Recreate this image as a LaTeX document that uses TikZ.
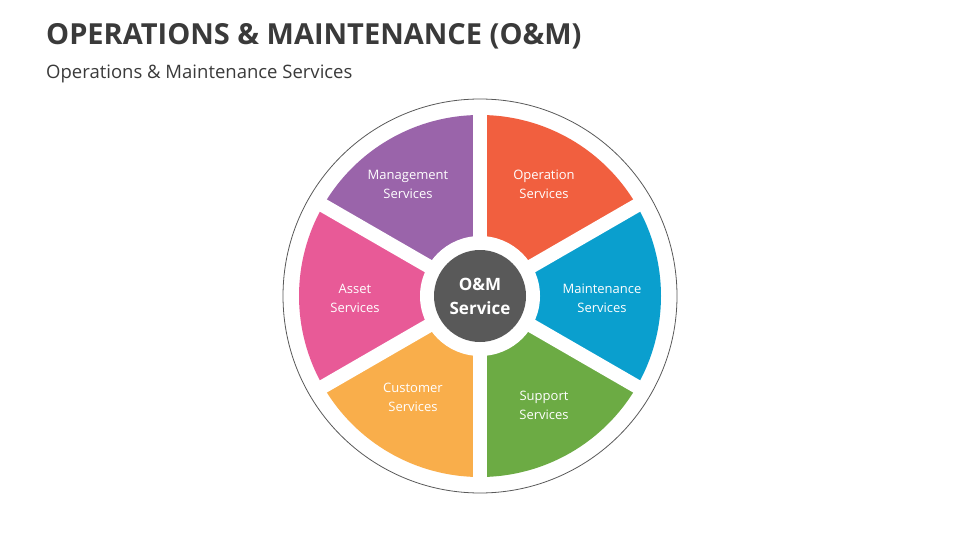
\documentclass[tikz,border=0pt]{standalone}
\usepackage{fontspec}
\setmainfont{Open Sans}
\definecolor{cop}{HTML}{F15F3F}
\definecolor{cma}{HTML}{0A9FCE}
\definecolor{csu}{HTML}{6CAB44}
\definecolor{ccu}{HTML}{F9AE4B}
\definecolor{cas}{HTML}{E85A97}
\definecolor{cmg}{HTML}{9A64AA}
\definecolor{ccen}{HTML}{595959}
\definecolor{ctitle}{HTML}{3A3A3A}
\begin{document}
\begin{tikzpicture}[x=1pt,y=-1pt,
  lbl/.style={text=white,font=\fontsize{13}{19}\selectfont,align=center}]
\useasboundingbox (0,0) rectangle (960,540);
\node[anchor=west,text=ctitle,font=\fontsize{29}{34}\selectfont\bfseries,inner sep=0pt] (title) at (46,36) {OPERATIONS \& MAINTENANCE (O\&M)};
\node[anchor=west,text=ctitle,font=\fontsize{18.5}{22}\selectfont,inner sep=0pt] (sub) at (46,74) {Operations \& Maintenance Services};
\coordinate (c) at (480,296);
\draw[fill=white,draw=ccen,line width=0.8pt] (c) circle (197);
\foreach \a/\col in {-90/cop,-30/cma,30/csu,90/ccu,150/cas,210/cmg}{
  \fill[\col] (c) -- ++(\a:181) arc[start angle=\a,delta angle=60,radius=181] -- cycle;
}
\foreach \a in {30,90,150,210,270,330}{
  \draw[white,line width=14pt] (c) -- ++(\a:190);
}
\fill[white] (c) circle (60);
\node[circle,fill=ccen,minimum size=92pt,inner sep=0pt,text=white,align=center,font=\fontsize{17}{24}\selectfont\bfseries] (cen) at (c) {O\&M\\Service};
\node[lbl] (op) at (544,184) {Operation\\Services};
\node[lbl] (ma) at (602,298) {Maintenance\\Services};
\node[lbl] (su) at (544,405) {Support\\Services};
\node[lbl] (cu) at (413,397) {Customer\\Services};
\node[lbl] (as) at (355,298) {Asset\\Services};
\node[lbl] (mg) at (408,184) {Management\\Services};
\end{tikzpicture}
\end{document}
